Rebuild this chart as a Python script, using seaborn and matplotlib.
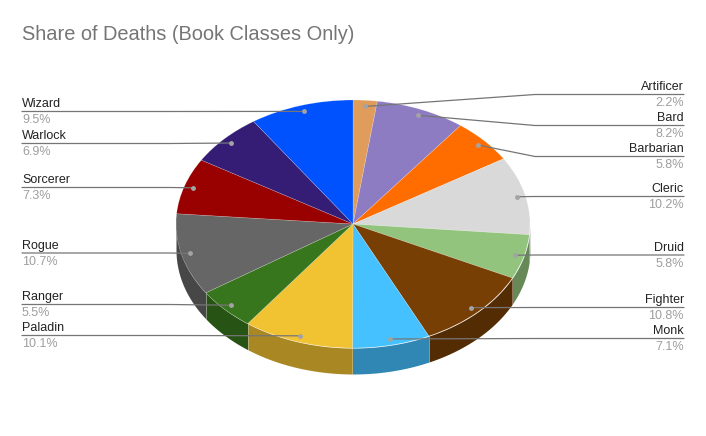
# plot.py
# Share of deaths by class, drawn as a tilted 3D-looking pie

import numpy as np
import matplotlib
matplotlib.use("Agg")
import matplotlib.pyplot as plt
import seaborn as sns

# --- Data ---
classes = ["Artificer", "Bard", "Barbarian", "Cleric", "Druid", "Fighter", "Monk",
           "Paladin", "Ranger", "Rogue", "Sorcerer", "Warlock", "Wizard"]
shares = [2.2, 8.2, 5.8, 10.2, 5.8, 10.8, 7.1, 10.1, 5.5, 10.7, 7.3, 6.9, 9.5]
colors = ["#e09c5a", "#8e7cc3", "#ff6d01", "#d9d9d9", "#93c47d", "#783f04", "#46c1ff",
          "#f1c232", "#38761d", "#666666", "#990000", "#351c75", "#0052ff"]
label_y = [94.5, 125.5, 156.5, 196.5, 255, 307.5, 338.5,
           335.5, 304.5, 253, 187.5, 143.5, 111.5]

# --- Layout in pixels ---
W, H = 706, 436
CX, CY, RX, RY = 353, 224, 177, 124
DEPTH = 26 / RY
DOT_R = 0.95

sns.set_theme(style="white")
plt.rcParams["font.family"] = ["Liberation Sans", "DejaVu Sans"]

fig = plt.figure(figsize=(W / 100, H / 100), dpi=100)
palette = sns.color_palette(colors)

# Pie on its own axes, squashed into an ellipse
pie_ax = fig.add_axes([(CX - RX) / W, 1 - (CY + RY) / H, 2 * RX / W, 2 * RY / H])
wedges, _ = pie_ax.pie(shares, colors=palette, startangle=90, counterclock=False,
                       wedgeprops={"edgecolor": (1, 1, 1, 0.3), "linewidth": 0.4})
pie_ax.set_aspect("auto")
pie_ax.set_xlim(-1, 1)
pie_ax.set_ylim(-1, 1)
pie_ax.axis("off")
for w in wedges:
    w.set_clip_on(False)

# Angles clockwise from 12 o'clock
edges = np.cumsum([0] + shares) / sum(shares) * 2 * np.pi
mids = (edges[:-1] + edges[1:]) / 2

# Front wall of the disc
for start, end, col in zip(edges[:-1], edges[1:], palette):
    lo, hi = max(start, np.pi / 2), min(end, 3 * np.pi / 2)
    if lo >= hi:
        continue
    t = np.linspace(lo, hi, 60)
    dark = tuple(c * 0.7 for c in col)
    pie_ax.fill_between(np.sin(t), np.cos(t), np.cos(t) - DEPTH, color=dark,
                        linewidth=0, zorder=0.5, clip_on=False)
    pie_ax.plot([np.sin(lo)] * 2, [np.cos(lo), np.cos(lo) - DEPTH], color=(1, 1, 1, 0.3),
                lw=0.6, zorder=0.6, clip_on=False)

# Overlay in pixel coordinates for title, leaders and labels
ax = fig.add_axes([0, 0, 1, 1], facecolor="none")
ax.set_xlim(0, W)
ax.set_ylim(H, 0)
ax.axis("off")

ax.text(22, 34, "Share of Deaths (Book Classes Only)", fontsize=14.4, color="#757575",
        va="center", ha="left")

for name, share, mid, y in zip(classes, shares, mids, label_y):
    dx = CX + DOT_R * RX * np.sin(mid)
    dy = CY - DOT_R * RY * np.cos(mid)
    if mid < np.pi:
        xs = [dx, 535, 684]
        tx, ha = 684, "right"
    else:
        xs = [dx, 170, 22]
        tx, ha = 22, "left"
    ax.plot(xs, [dy, y, y], color="#757575", lw=0.9, solid_joinstyle="miter", zorder=2)
    ax.plot(dx, dy, "o", ms=3.5, color="#a3a3a3", mew=0, zorder=3)
    ax.text(tx, y - 7.5, name, fontsize=9, color="#222222", ha=ha, va="center")
    ax.text(tx, y + 8.5, f"{share}%", fontsize=9, color="#9e9e9e", ha=ha, va="center")

fig.savefig("out.png", dpi=100, facecolor="white")
plt.close(fig)
